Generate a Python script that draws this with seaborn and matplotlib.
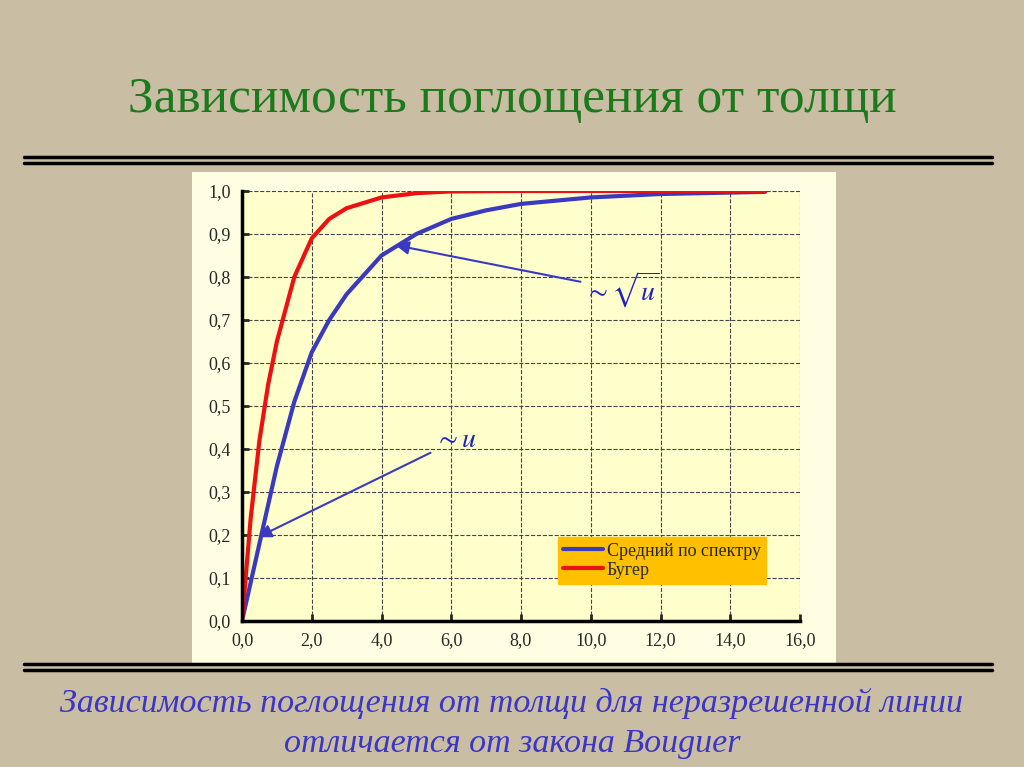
import matplotlib
matplotlib.use("Agg")
import matplotlib.pyplot as plt
import seaborn as sns
import pandas as pd
from matplotlib.patches import Rectangle
from matplotlib.lines import Line2D

u_red = [0, 0.25, 0.5, 0.75, 1, 1.5, 2, 2.5, 3, 4, 5, 6, 8, 10, 12, 15]
bouguer = [0, 0.24, 0.42, 0.55, 0.65, 0.80, 0.89, 0.935, 0.96, 0.985, 0.995, 0.999, 1, 1, 1, 1]
u_blue = [0, 0.25, 0.5, 1, 1.5, 2, 2.5, 3, 4, 5, 6, 7, 8, 10, 12, 15]
mean_spec = [0, 0.09, 0.18, 0.36, 0.51, 0.625, 0.70, 0.76, 0.85, 0.90, 0.935, 0.955, 0.97, 0.985, 0.993, 0.998]
xticks = [0, 2, 4, 6, 8, 10, 12, 14, 16]
yticks = [0, 0.1, 0.2, 0.3, 0.4, 0.5, 0.6, 0.7, 0.8, 0.9, 1.0]

sns.set_style("white")
plt.rcParams['font.family'] = ['Liberation Serif', 'DejaVu Serif']
plt.rcParams['mathtext.fontset'] = 'stix'

fig = plt.figure(figsize=(10.24, 7.67), dpi=100)
fig.patch.set_facecolor('#c9bea3')
W, H = 1024, 767
def fx(x): return x / W
def fy(y): return 1 - y / H

fig.patches.append(Rectangle((fx(192), fy(665)), 644 / W, 493 / H, transform=fig.transFigure,
                             facecolor='#fffde2', edgecolor='none', zorder=-5))
for y, lw in [(157, 2.5), (163, 2.5), (664, 2.5), (670, 2.5)]:
    fig.lines.append(Line2D([fx(24), fx(992)], [fy(y), fy(y)], transform=fig.transFigure,
                            color='black', lw=lw, zorder=-4))

fig.text(0.5, fy(100), "Зависимость поглощения от толщи", ha='center', va='center',
         fontsize=37, color='#1b7a1b')
fig.text(0.5, fy(703), "Зависимость поглощения от толщи для неразрешенной линии",
         ha='center', va='center', fontsize=24.5, color='#3b35c8', style='italic')
fig.text(0.5, fy(744), "отличается от закона Bouguer",
         ha='center', va='center', fontsize=24.5, color='#3b35c8', style='italic')

ax = fig.add_axes([fx(242), fy(621), 558 / W, 430 / H])
ax.set_zorder(2)
ax.set_facecolor('#ffffcc')
df_b = pd.DataFrame({'u': u_blue, 'v': mean_spec})
df_r = pd.DataFrame({'u': u_red, 'v': bouguer})
sns.lineplot(data=df_b, x='u', y='v', ax=ax, color='#3a3ac0', lw=3, label='Средний по спектру')
sns.lineplot(data=df_r, x='u', y='v', ax=ax, color='#ee1111', lw=3, label='Бугер')
ax.set_xlim(0, 16)
ax.set_ylim(0, 1.0)
ax.set_xticks(xticks)
ax.set_yticks(yticks)
ax.set_xticklabels([f"{v:.1f}".replace('.', ',') for v in xticks], fontsize=13)
ax.set_yticklabels([f"{v:.1f}".replace('.', ',') for v in yticks], fontsize=13)
ax.set_xlabel('')
ax.set_ylabel('')
ax.grid(True, ls='--', color='#444444', lw=0.8)
for s in ['left', 'bottom']:
    ax.spines[s].set_color('black'); ax.spines[s].set_linewidth(2.5)
for s in ['top', 'right']:
    ax.spines[s].set_visible(False)
ax.tick_params(direction='in', length=5, width=2, bottom=True, left=True, pad=8)

ax.annotate(r"$\sim\sqrt{u}$", xy=(4.4, 0.874), xytext=(9.8, 0.77), fontsize=20, color='#2020c0',
            ha='left', va='center',
            arrowprops=dict(arrowstyle='-|>', color='#3a3ac0', lw=1.5, shrinkA=0, shrinkB=0))
ax.annotate(r"$\sim u$", xy=(0.46, 0.195), xytext=(5.5, 0.39), fontsize=20, color='#2020c0',
            ha='left', va='bottom',
            arrowprops=dict(arrowstyle='-|>', color='#3a3ac0', lw=1.5, shrinkA=0, shrinkB=0))

leg = ax.legend(loc='lower left', bbox_to_anchor=(8.8 / 16, 0.065), fontsize=13, frameon=True,
                fancybox=False, facecolor='#ffc000', edgecolor='#ffc000', framealpha=1,
                handlelength=2.2, borderpad=0.3, labelspacing=0.1, handletextpad=0.2)

fig.savefig('out.png', dpi=100, facecolor=fig.get_facecolor())
